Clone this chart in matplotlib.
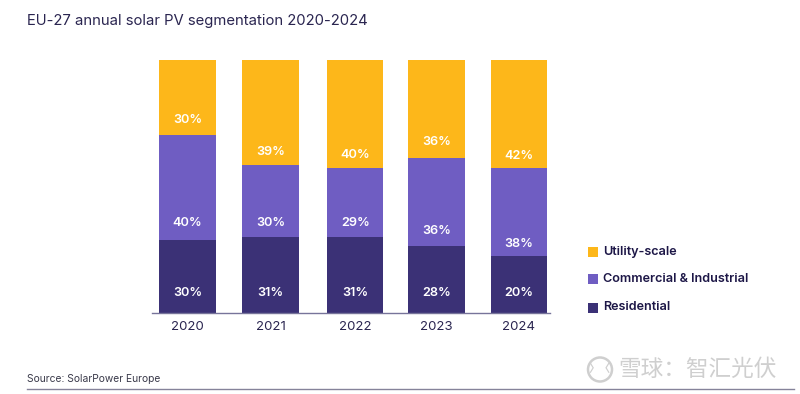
import matplotlib
matplotlib.use("Agg")
import matplotlib.pyplot as plt
from matplotlib.patches import Rectangle, Ellipse

years = ["2020", "2021", "2022", "2023", "2024"]
residential = [30, 31, 31, 28, 20]
commercial = [40, 30, 29, 36, 38]
utility = [30, 39, 40, 36, 42]
heights_res = [28.9, 30.0, 30.0, 26.5, 22.5]
heights_com = [41.5, 28.5, 27.3, 34.8, 34.8]
heights_uti = [29.6, 41.5, 42.7, 38.7, 42.7]
series = ["Residential", "Commercial & Industrial", "Utility-scale"]
colors = ["#3b3176", "#6f5dc2", "#fdb71a"]
watermark = "雪球：智汇光伏"

W, H = 800, 394
plt.rcParams['font.family'] = ['Inter', 'Noto Sans CJK SC', 'DejaVu Sans']
fig = plt.figure(figsize=(8, 3.94), dpi=100)
ax = fig.add_axes([152/W, 1-313/H, (550-152)/W, (313-60)/H])
ax.patch.set_alpha(0)
x = [0, 1, 2.02, 3.0, 3.99]
ink = "#1d1747"

label_res = [8.1] * 5
label_com = [35.4, 35.4, 35.4, 32.6, 27.4]
label_uti = [76.1, 63.8, 62.6, 67.4, 62.2]

bottom = [0]*5
for h, lab, ly, col in zip([heights_res, heights_com, heights_uti],
                           [residential, commercial, utility],
                           [label_res, label_com, label_uti], colors):
    ax.bar(x, h, bottom=bottom, width=0.68, color=col)
    for i, xi in enumerate(x):
        ax.text(xi, ly[i], f"{lab[i]}%", ha="center", va="center", color="white",
                fontsize=9.2, fontweight="semibold")
    bottom = [b+v for b, v in zip(bottom, h)]

ax.set_xlim(-0.429, 4.366)
ax.set_ylim(0, 100)
ax.set_yticks([])
ax.set_xticks(x, years, fontsize=9.5, color="#2a2550")
ax.tick_params(axis="x", length=0, pad=6)
for s in ["top", "left", "right"]:
    ax.spines[s].set_visible(False)
ax.spines["bottom"].set_color("#77749a")
ax.spines["bottom"].set_linewidth(1.0)

fig.text(27/W, 1-21/H, "EU-27 annual solar PV segmentation 2020-2024", fontsize=10.7, color="#2a2550", va="center")
fig.text(27/W, 1-379/H, "Source: SolarPower Europe", fontsize=7.4, color="#3a3a4a", va="center")
fig.add_artist(plt.Line2D([27/W, 794/W], [1-388.5/H]*2, color="#85839a", lw=1.0))

for y, name, col in zip([307.5, 279, 251.5], series, colors):
    fig.add_artist(Rectangle((588/W, 1-(y+5)/H), 10/W, 10/H, color=col, lw=0, transform=fig.transFigure))
    fig.text(603/W, 1-y/H, name, fontsize=9.1, color=ink, va="center", fontweight="semibold")

wm = "#cfcfcf"
fig.add_artist(Ellipse((600/W, 1-369.5/H), 24/W, 24/H, fill=False, ec=wm, lw=1.8, transform=fig.transFigure))
fig.text(600/W, 1-369/H, "〉〈", fontsize=8, color=wm, ha="center", va="center", fontweight="bold")
fig.text(777/W, 1-370/H, watermark, fontsize=16.3, color=wm, va="center", ha="right")
fig.savefig("out.png", dpi=100)
